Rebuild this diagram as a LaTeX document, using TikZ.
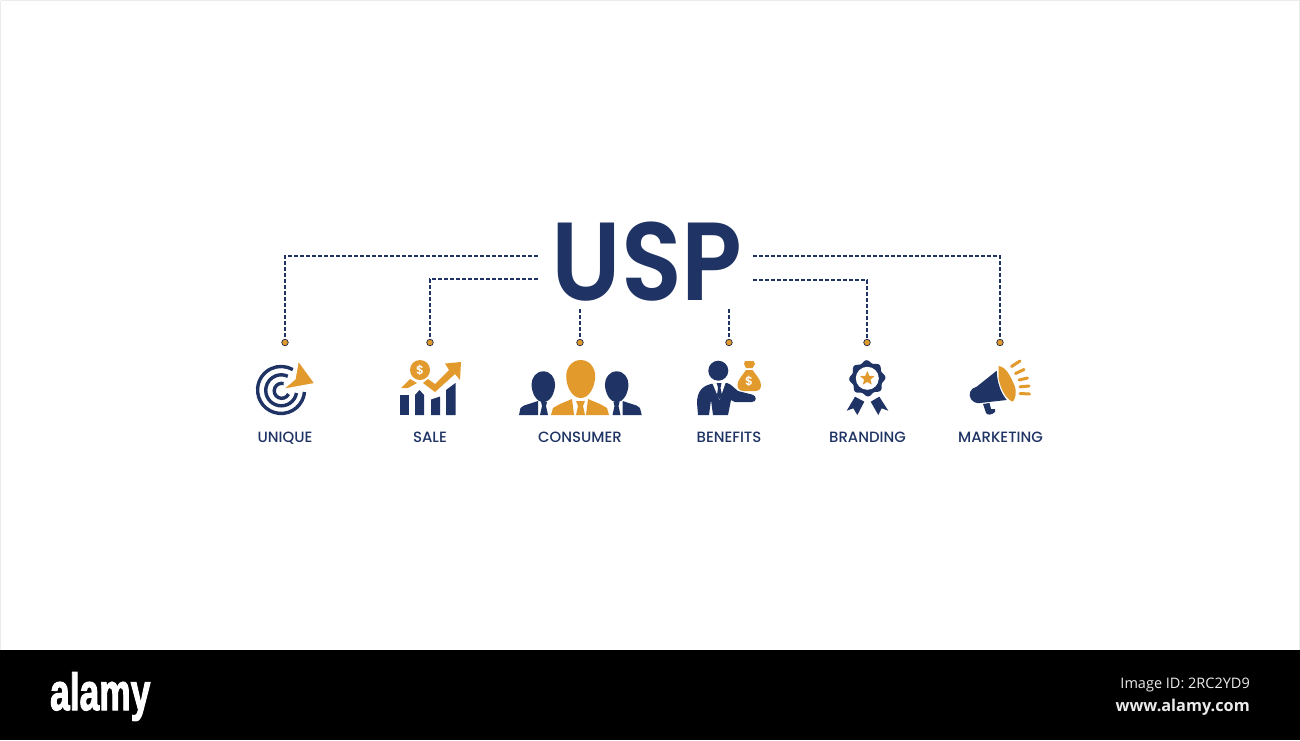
\documentclass[tikz,border=0pt]{standalone}
\usepackage{fontspec}
\usetikzlibrary{shapes.geometric}
\setmainfont{Poppins}
\newfontfamily\popm[UprightFont=* SemiBold]{Poppins}
\newfontfamily\popl[UprightFont=* Medium]{Poppins}
\newfontfamily\opens{Open Sans}
\newfontfamily\heros[BoldFeatures={FakeBold=2.5}]{Liberation Sans}
\definecolor{navy}{HTML}{1F3364}
\definecolor{amber}{HTML}{E39A2D}
\newcommand{\headpath}{(0,-19) .. controls (9,-19) and (14.5,-11) .. (14.5,-3) .. controls (14.5,7) and (9,19) .. (0,19) .. controls (-9,19) and (-14.5,7) .. (-14.5,-3) .. controls (-14.5,-11) and (-9,-19) .. (0,-19) -- cycle}
\tikzset{
  dashline/.style={draw=navy,line width=1.3pt,dash pattern=on 4pt off 2pt},
  pin/.style={circle,draw=navy!70!black,fill=amber,line width=0.7pt,minimum size=6.5pt,inner sep=0pt},
  lab/.style={text=navy,font=\popl\fontsize{14.9}{16}\selectfont,anchor=base,inner sep=0pt},
  nv/.style={fill=navy,draw=none},
  am/.style={fill=amber,draw=none},
  ring/.style={draw=navy,line width=3.4pt,fill=none},
  coin/.style={text=white,font=\popm\fontsize{12}{12}\selectfont,inner sep=0pt}
}
\begin{document}
\begin{tikzpicture}[x=1pt,y=-1pt]
\useasboundingbox (0,0) rectangle (1300,740);
\fill[white] (0,0) rectangle (1300,740);
\draw[black!8,line width=1pt] (0.5,0.5) -- (1299.5,0.5) -- (1299.5,650) (0.5,0.5) -- (0.5,650);
\fill[black] (0,650) rectangle (1300,740);
% title
\node[text=navy,font=\popm\fontsize{111}{111}\selectfont,anchor=base,inner sep=0pt,xscale=0.9] (usp) at (647,300) {USP};
% dots
\node[pin] (d1) at (285,342.5) {};
\node[pin] (d2) at (430,342.5) {};
\node[pin] (d3) at (580,342.5) {};
\node[pin] (d4) at (729,342.5) {};
\node[pin] (d5) at (867,342.5) {};
\node[pin] (d6) at (1000,342.5) {};
\coordinate (c1) at (538,256);
\coordinate (c2) at (538,279);
\coordinate (c3) at (580,309);
\coordinate (c4) at (729,309);
\coordinate (c5) at (753,280);
\coordinate (c6) at (753,256);
\draw[dashline] (c1) -| (d1);
\draw[dashline] (c2) -| (d2);
\draw[dashline] (c3) -- (d3);
\draw[dashline] (c4) -- (d4);
\draw[dashline] (c5) -| (d5);
\draw[dashline] (c6) -| (d6);
% labels
\node[lab] (l1) at (285,442) {UNIQUE};
\node[lab] (l2) at (430,442) {SALE};
\node[lab] (l3) at (580,442) {CONSUMER};
\node[lab] (l4) at (729,442) {BENEFITS};
\node[lab] (l5) at (867.5,442) {BRANDING};
\node[lab] (l6) at (1000.5,442) {MARKETING};
% unique icon
\draw[ring] (304.5,392) arc[start angle=5,end angle=300,radius=23.5];
\draw[ring] (296.5,393) arc[start angle=10,end angle=295,radius=15.5];
\draw[ring] (288.5,394) arc[start angle=25,end angle=285,radius=7.5];
\fill[amber,draw=white,line width=1.2pt] (298.3,360.5) -- (315,383.5) -- (282.5,389.5) -- (295,379) -- cycle;
% sale icon
\fill[nv] (400,395) rectangle (409.3,415);
\fill[nv] (415,395) -- (419.5,390) -- (424,395) -- (424,415) -- (415,415) -- cycle;
\fill[nv] (431,399.5) -- (440,396.5) -- (440,415) -- (431,415) -- cycle;
\fill[nv] (446,390) -- (455.5,383) -- (455.5,415) -- (446,415) -- cycle;
\fill[am] (401,388) -- (410,379) -- (417,383) -- (408,388) -- cycle;
\fill[am] (423,383) -- (428,379) -- (435,384) -- (449,370) -- (445,363.5) -- (461,362) -- (460,380) -- (455,374) -- (435,392) -- cycle;
\fill[am] (420,370) circle[radius=10];
\node[coin] (s1) at (420,370) {\$};
% consumer icon
\fill[nv] (519,415) -- (520.5,408) -- (524,405.5) -- (538,401) -- (538,415) -- cycle;
\fill[nv] (541,402) -- (547,402) -- (546,406) -- (548,415) -- (540,415) -- (542,406) -- cycle;
\begin{scope}[shift={(543.3,386.7)},scale=0.81]
\fill[nv] \headpath;
\end{scope}
\fill[nv] (641.7,415) -- (640,408) -- (636.5,405.5) -- (622.5,401) -- (622.5,415) -- cycle;
\fill[nv] (613.5,402) -- (619.5,402) -- (618.5,406) -- (620.5,415) -- (612.5,415) -- (614.5,406) -- cycle;
\begin{scope}[shift={(616.7,386.7)},scale=0.81]
\fill[nv] \headpath;
\end{scope}
\fill[am] (551,415) -- (553,408) -- (560,404) -- (572,399) -- (574,415) -- cycle;
\fill[am] (609,415) -- (607,408) -- (600,404) -- (588,399) -- (586,415) -- cycle;
\fill[am] (576,401) -- (585,401) -- (583,406) -- (585,415) -- (576,415) -- (578,406) -- cycle;
\begin{scope}[shift={(580.7,379)}]
\fill[am] \headpath;
\end{scope}
% benefits icon
\fill[nv] (718.3,370.7) circle[radius=10];
\fill[nv] (698,415) -- (697,403) .. controls (697,392) and (702,386) .. (711,384) -- (727,383) .. controls (731,384) and (734,388) .. (738,391) -- (752,394.5) .. controls (757,395.5) and (757,402) .. (752,402) -- (735,402) -- (731,400) -- (728,415) -- (713,415) -- (711,400) -- (709,415) -- cycle;
\fill[white] (712.5,383.5) -- (725.5,383) -- (719.5,400) -- cycle;
\fill[nv] (716.8,383) -- (721.5,383) -- (720.5,388) -- (722,395) -- (719.5,399.5) -- (717,395) -- (718,388) -- cycle;
\fill[am] (746,370) .. controls (742,376) and (737.5,380) .. (737.5,385) .. controls (737.5,389) and (740,391) .. (744,391) -- (755,391) .. controls (759,391) and (761,389) .. (761,385) .. controls (761,380) and (756,375) .. (752.5,370) -- cycle;
\fill[am] (745,361) -- (753.5,361) -- (755,364) -- (752.5,368) -- (746,368) -- (744,364) -- cycle;
\node[coin] (s2) at (749,381) {\$};
% branding icon
\fill[navy] plot[domain=0:360,samples=145,variable=\t] ({867.3+(16.8+1.3*cos(8*\t+22))*cos(\t)},{378.3+(16.8+1.3*cos(8*\t+22))*sin(\t)}) -- cycle;
\fill[white] (867.3,378.3) circle[radius=11.5];
\node[star,star points=5,star point ratio=2.2,fill=amber,minimum size=15pt,inner sep=0pt] (st) at (867.3,378.5) {};
\fill[nv] (855,396.7) -- (864.3,401.7) -- (857.3,415) -- (853.3,408.3) -- (846.7,410.7) -- cycle;
\fill[nv] (879.3,396.7) -- (870.7,401.7) -- (878.3,415) -- (881.7,408.3) -- (888.3,410.7) -- cycle;
% marketing icon
\fill[nv] (996.7,370.7) -- (976.7,386.7) .. controls (970,388) and (968,395) .. (971,399) .. controls (973,402) and (976,403.5) .. (980,403) -- (1006.7,400) .. controls (1000,392) and (997,381) .. (996.7,370.7) -- cycle;
\fill[nv] (983,404) -- (986,413) .. controls (987,415.5) and (992,415) .. (995,412) -- (995,409) -- (991,409) -- (989.5,403) -- cycle;
\fill[am] (998.5,366) .. controls (1006,367) and (1010,375) .. (1015,386.7) .. controls (1016.5,392) and (1016,398) .. (1012.7,401.7) .. controls (1006,399) and (1001,390) .. (998.5,378) -- cycle;
\begin{scope}[draw=amber,line width=3pt,line cap=round]
\draw (1011.5,366.5) -- (1020,361);
\draw (1015.5,373.5) -- (1024,369.5);
\draw (1019,380) -- (1027.5,378);
\draw (1020,386.8) -- (1029,386);
\draw (1020,393.5) -- (1029.5,394);
\end{scope}
% footer
\node[text=white,anchor=base west,inner sep=0pt,font=\heros\bfseries\fontsize{52}{52}\selectfont,xscale=0.68] (al) at (50,710) {alamy};
\node[text=white!92!black,anchor=base east,inner sep=0pt,font=\opens\fontsize{14.5}{15}\selectfont] (idt) at (1250,688) {Image ID: 2RC2YD9};
\node[text=white!92!black,anchor=base east,inner sep=0pt,font=\opens\bfseries\fontsize{16.3}{17}\selectfont] (www) at (1250,711) {www.alamy.com};
\end{tikzpicture}
\end{document}
